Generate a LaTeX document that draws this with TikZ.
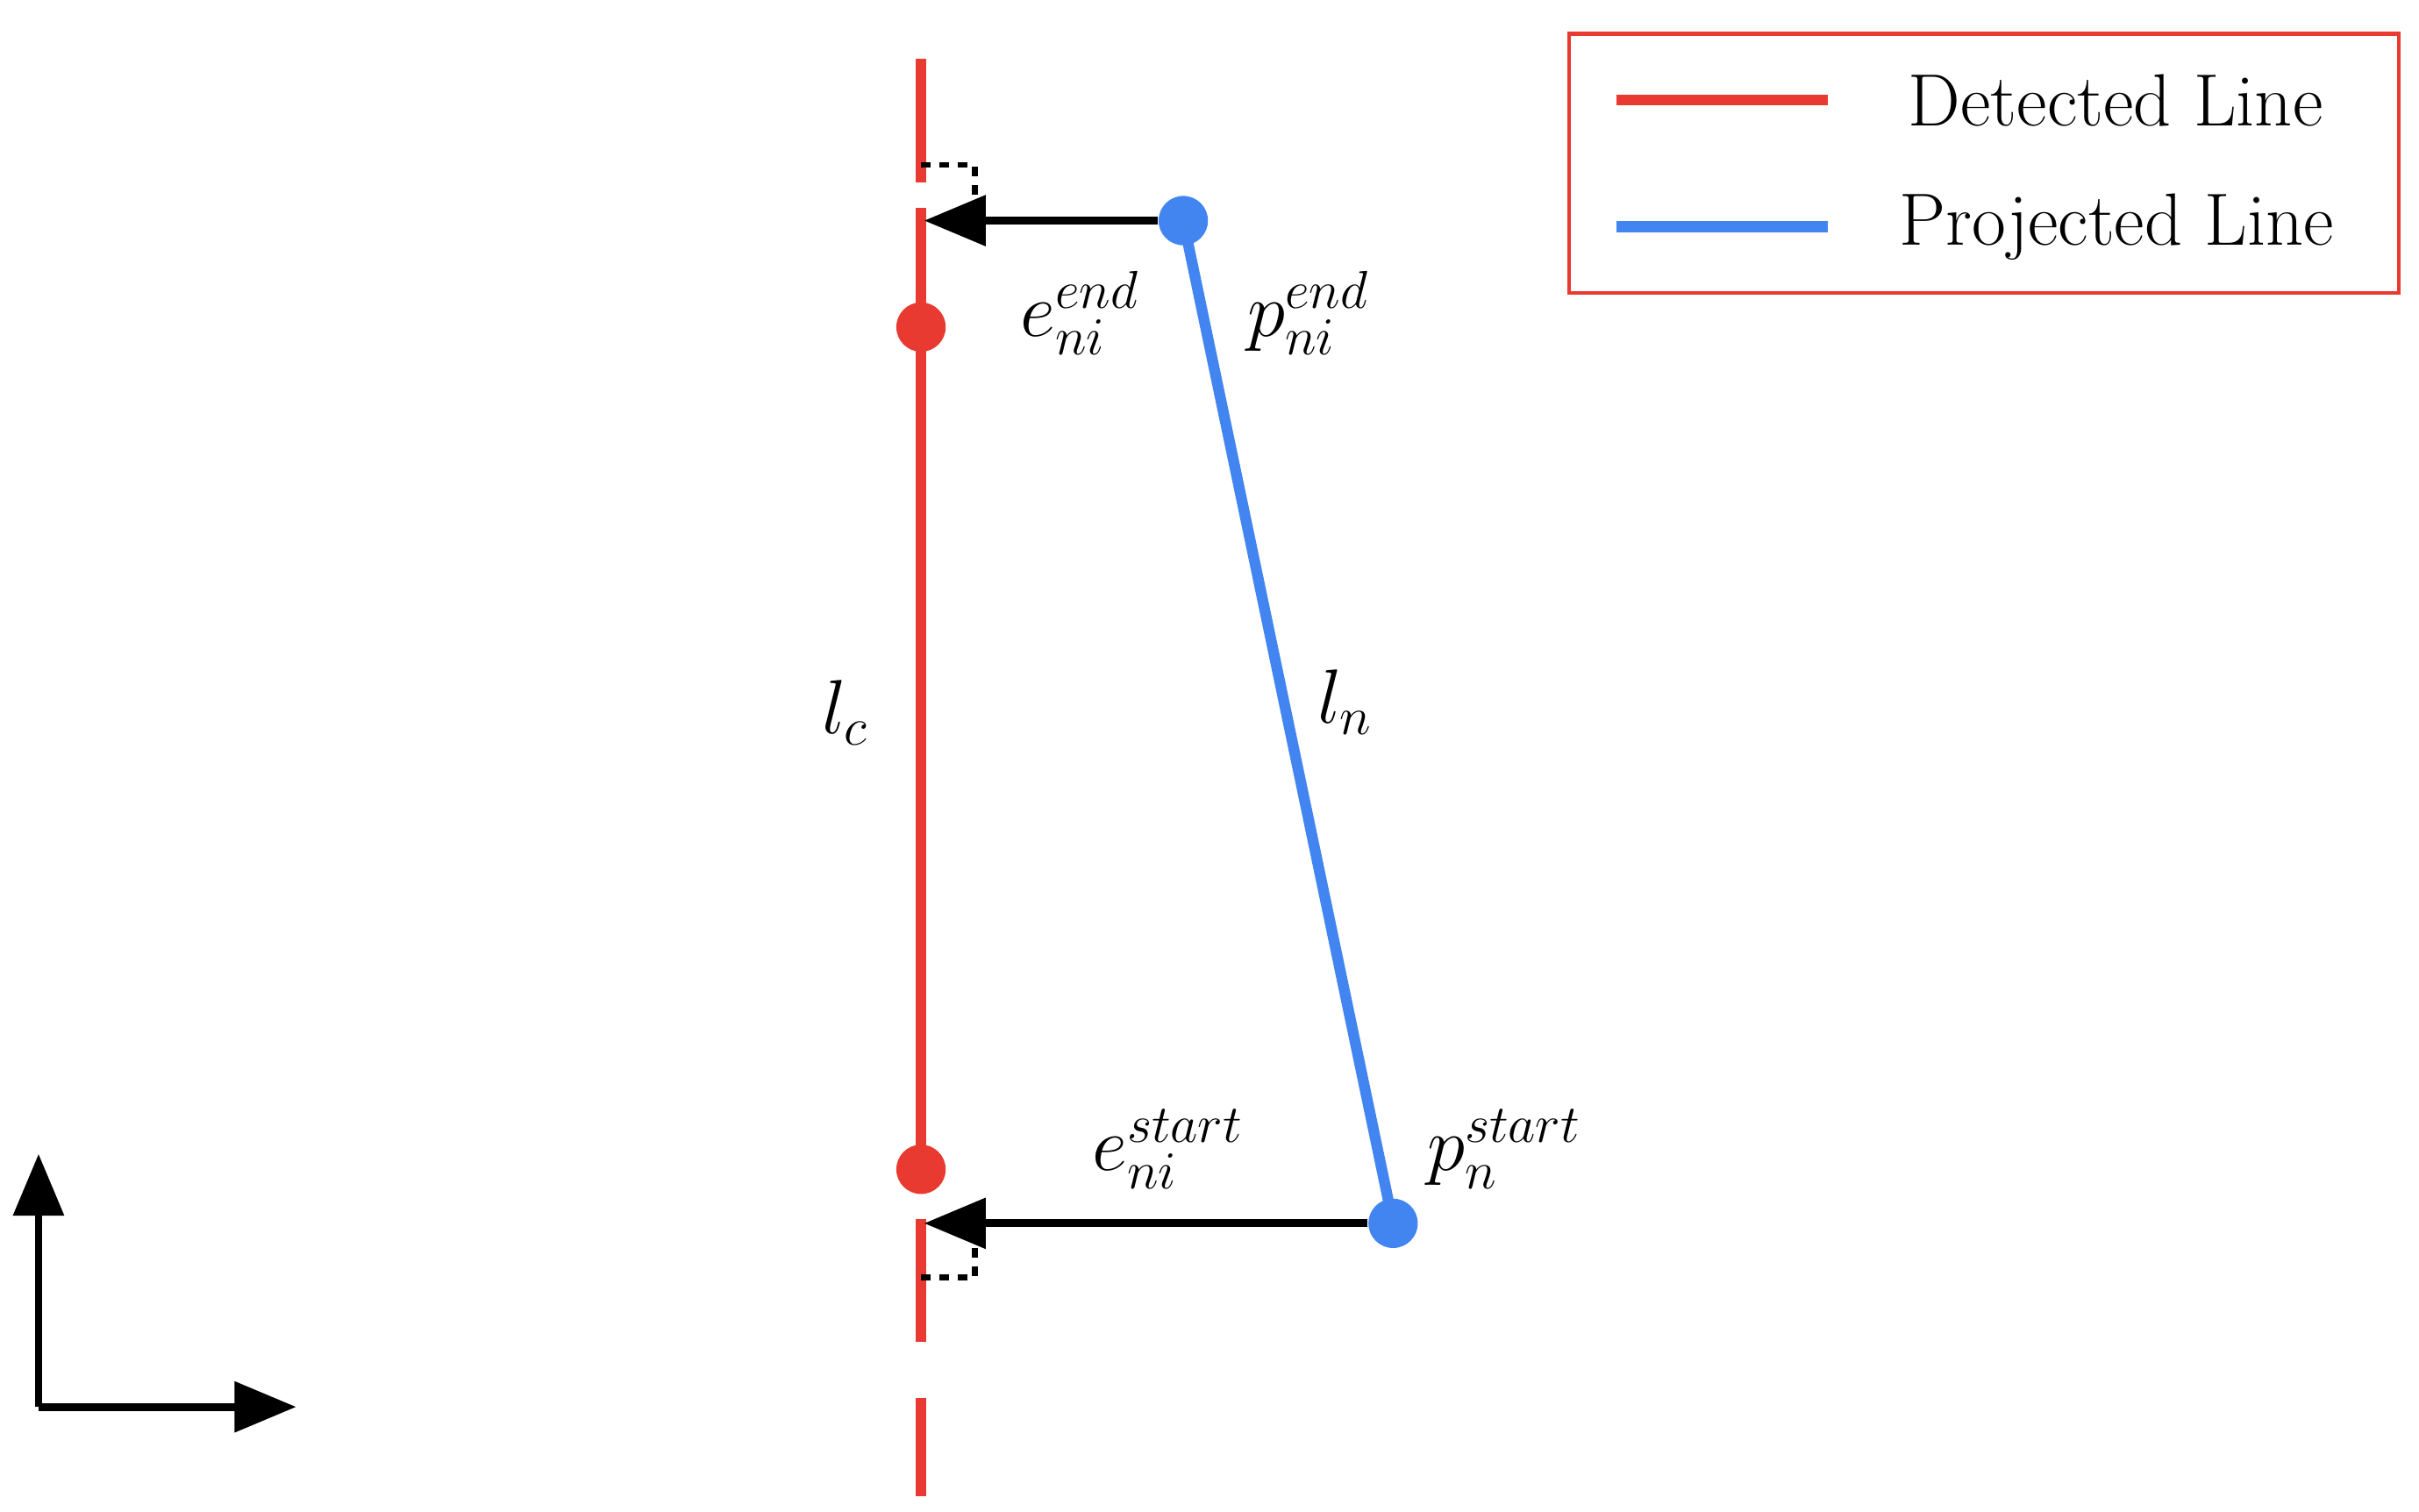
\documentclass[tikz,border=0pt]{standalone}
\usetikzlibrary{arrows.meta}
\definecolor{dred}{RGB}{232,58,48}
\definecolor{pblue}{RGB}{66,133,240}
\begin{document}
\begin{tikzpicture}[x=0.5pt,y=-0.5pt,
  redl/.style={dred,line width=3.5pt},
  bluel/.style={pblue,line width=3.5pt},
  arr/.style={black,line width=2.5pt,-{Triangle[length=20pt,width=16pt]}},
  rdot/.style={circle,fill=dred,inner sep=0pt,minimum size=16pt},
  bdot/.style={circle,fill=pblue,inner sep=0pt,minimum size=16pt},
  lab/.style={font=\fontsize{24}{28}\selectfont},
  leg/.style={font=\fontsize{24}{28}\selectfont,anchor=west}]
\useasboundingbox (0,0) rectangle (1568,980);
% red line
\draw[redl,dash pattern=on 40pt off 18pt] (597,38) -- (597,130);
\draw[redl] (597,135) -- (597,770);
\draw[redl,dash pattern=on 40pt off 18pt] (597,790) -- (597,970);
\node[rdot] (rt) at (597,212) {};
\node[rdot] (rb) at (597,758) {};
% perpendicular markers
\draw[black,line width=1.8pt,dashed] (597,107) -- (632,107) -- (632,143);
\draw[black,line width=1.8pt,dashed] (597,828) -- (632,828) -- (632,793);
% blue line
\coordinate (pe) at (767,143);
\coordinate (ps) at (903,793);
\draw[bluel] (pe) -- (ps);
\node[bdot] (be) at (pe) {};
\node[bdot] (bs) at (ps) {};
\coordinate (fe) at (599,143);
\coordinate (fs) at (599,793);
\draw[arr] (be) -- (fe);
\draw[arr] (bs) -- (fs);
% labels
\node[lab] (l1) at (700,203) {$e_{ni}^{end}$};
\node[lab] (l2) at (848,203) {$p_{ni}^{end}$};
\node[lab] (l3) at (548,462) {$l_c$};
\node[lab] (l4) at (872,455) {$l_n$};
\node[lab] (l5) at (757,745) {$e_{ni}^{start}$};
\node[lab] (l6) at (975,745) {$p_{n}^{start}$};
% axes
\coordinate (o) at (25,912);
\coordinate (ay) at (25,748);
\coordinate (ax) at (192,912);
\draw[arr] (o) -- (ay);
\draw[arr] (o) -- (ax);
% legend
\draw[dred,line width=1.3pt] (1017,22) rectangle (1555,190);
\draw[redl] (1048,65) -- (1185,65);
\draw[bluel] (1048,147) -- (1185,147);
\node[leg] (t1) at (1230,65) {Detected Line};
\node[leg] (t2) at (1224,147) {Projected Line};
\end{tikzpicture}
\end{document}
